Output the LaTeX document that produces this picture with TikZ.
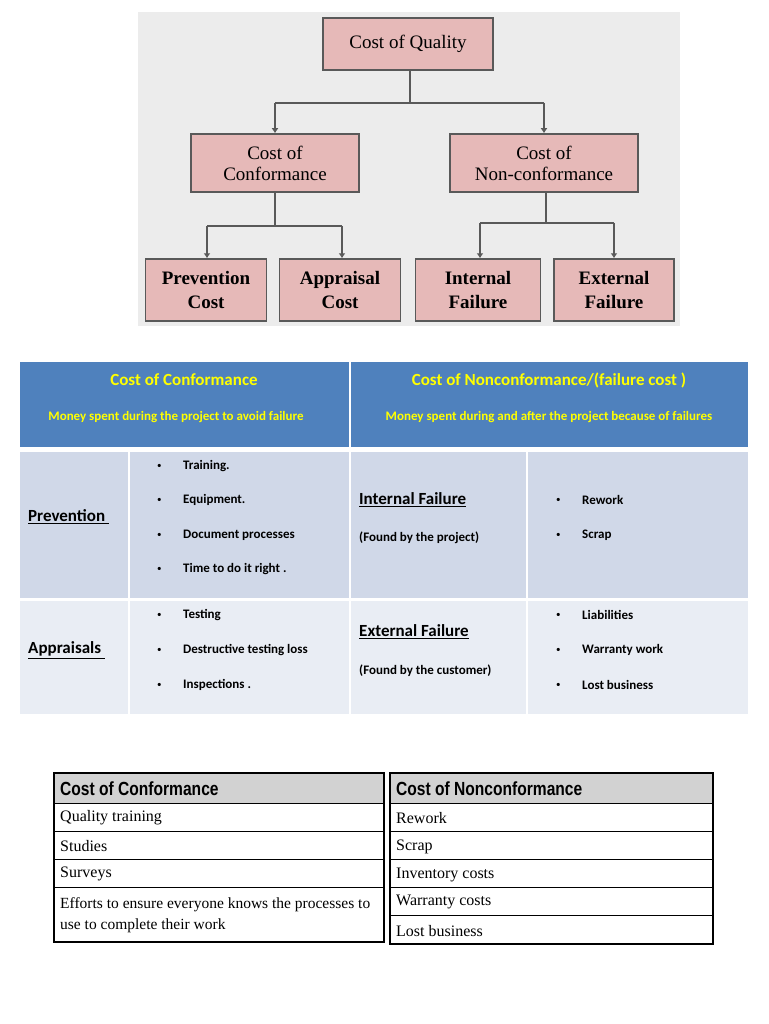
\documentclass[tikz,border=0pt]{standalone}
\usepackage{fontspec}
\setmainfont{Liberation Serif}
\newfontfamily\carl{Carlito}
\newfontfamily\narrow[FakeStretch=0.82]{Liberation Sans}
\usetikzlibrary{arrows.meta}
\definecolor{pinkb}{HTML}{E6B9B8}
\definecolor{hdr}{HTML}{4F81BD}
\definecolor{rowa}{HTML}{D0D8E8}
\definecolor{rowb}{HTML}{E9EDF4}
\definecolor{yel}{HTML}{FFFF00}
\tikzset{
 pbox/.style={draw=gray!70!black,line width=1.5pt,fill=pinkb,align=center,font=\fontsize{19}{21}\selectfont,inner sep=0pt},
 arr/.style={draw=gray!70!black,line width=1.5pt,-{Latex[length=5pt,width=7pt]}},
 ln/.style={draw=gray!70!black,line width=1.5pt},
 tx/.style={font=\carl\bfseries\fontsize{13}{15}\selectfont,anchor=west,inner sep=0pt},
 st/.style={font=\fontsize{16}{18}\selectfont,anchor=west,inner sep=0pt},
}
\begin{document}
\begin{tikzpicture}[x=1pt,y=-1pt]
\useasboundingbox (0,0) rectangle (768,1024);
\fill[white] (0,0) rectangle (768,1024);
% top diagram
\fill[gray!15] (138,12) rectangle (680,326);
\node[pbox,minimum width=170,minimum height=52] (q) at (408,44) {Cost of Quality};
\node[pbox,minimum width=168,minimum height=58] (c) at (275,163) {Cost of\\Conformance};
\node[pbox,minimum width=188,minimum height=58] (n) at (544,163) {Cost of\\Non-conformance};
\node[pbox,minimum width=121,minimum height=62,font=\bfseries\fontsize{19}{24}\selectfont] (p) at (206,290) {Prevention\\Cost};
\node[pbox,minimum width=121,minimum height=62,font=\bfseries\fontsize{19}{24}\selectfont] (a) at (340,290) {Appraisal\\Cost};
\node[pbox,minimum width=125,minimum height=62,font=\bfseries\fontsize{19}{24}\selectfont] (i) at (478,290) {Internal\\Failure};
\node[pbox,minimum width=120,minimum height=62,font=\bfseries\fontsize{19}{24}\selectfont] (e) at (614,290) {External\\Failure};
\coordinate (q1) at (410,103); \coordinate (qc) at (275,103); \coordinate (qn) at (544,103);
\draw[ln] (q.south -| q1) -- (q1);
\draw[ln] (qc) -- (qn);
\draw[arr] (qc) -- (c.north);
\draw[arr] (qn) -- (n.north);
\coordinate (c1) at (275,226); \coordinate (cp) at (207,226); \coordinate (ca) at (342,226);
\draw[ln] (c.south) -- (c1); \draw[ln] (cp) -- (ca);
\draw[arr] (cp) -- (p.north -| cp); \draw[arr] (ca) -- (a.north -| ca);
\coordinate (n1) at (546,223); \coordinate (ni) at (480,223); \coordinate (ne) at (614,223);
\draw[ln] (n.south -| n1) -- (n1); \draw[ln] (ni) -- (ne);
\draw[arr] (ni) -- (i.north -| ni); \draw[arr] (ne) -- (e.north -| ne);
% middle table
\fill[hdr] (20,362) rectangle (349,447);
\fill[hdr] (351,362) rectangle (748,447);
\fill[rowa] (20,452) rectangle (128,598); \fill[rowa] (130,452) rectangle (349,598);
\fill[rowa] (351,452) rectangle (526,598); \fill[rowa] (528,452) rectangle (748,598);
\fill[rowb] (20,601) rectangle (128,714); \fill[rowb] (130,601) rectangle (349,714);
\fill[rowb] (351,601) rectangle (526,714); \fill[rowb] (528,601) rectangle (748,714);
\node[font=\carl\bfseries\fontsize{17}{19}\selectfont,text=yel] (h1) at (184,380) {Cost of Conformance};
\node[font=\carl\bfseries\fontsize{13}{15}\selectfont,text=yel] (h1b) at (176,417) {Money spent during the project to avoid failure};
\node[font=\carl\bfseries\fontsize{17}{19}\selectfont,text=yel] (h2) at (549,380) {Cost of Nonconformance/(failure cost )};
\node[font=\carl\bfseries\fontsize{13}{15}\selectfont,text=yel] (h2b) at (549,417) {Money spent during and after the project because of failures};
\node[tx,font=\carl\bfseries\fontsize{17}{19}\selectfont] (pv) at (28,517) {\underline{Prevention\ }};
\node[tx,font=\carl\bfseries\fontsize{17}{19}\selectfont] (ap) at (28,650) {\underline{Appraisals\ }};
\node[tx,font=\carl\bfseries\fontsize{17}{19}\selectfont] (if) at (359,500) {\underline{Internal Failure}};
\node[tx] (if2) at (359,538) {(Found by the project)};
\node[tx,font=\carl\bfseries\fontsize{17}{19}\selectfont] (ef) at (359,632) {\underline{External Failure}};
\node[tx] (ef2) at (359,671) {(Found by the customer)};
\foreach \y/\t [count=\k] in {466/Training., 500/Equipment., 535/Document processes, 569/Time to do it right .,
  615/Testing, 650/Destructive testing loss, 685/Inspections .}{
  \node[tx,font=\carl\fontsize{9}{11}\selectfont] (lb\k) at (157,\y) {•}; \node[tx] (lt\k) at (183,\y) {\t};}
\foreach \y/\t [count=\k] in {500/Rework, 535/Scrap, 615/Liabilities, 650/Warranty work, 685/Lost business}{
  \node[tx,font=\carl\fontsize{9}{11}\selectfont] (rb\k) at (556,\y) {•}; \node[tx] (rt\k) at (582,\y) {\t};}
% bottom tables
\fill[gray!35] (54,773) rectangle (384,803);
\fill[gray!35] (390,773) rectangle (713,803);
\draw[line width=1.2pt] (54,773) rectangle (384,942);
\draw[line width=1.2pt] (390,773) rectangle (713,944);
\foreach \y in {803,831,859,887} \draw[line width=1pt] (54,\y) -- (384,\y);
\foreach \y in {803,831,859,887,915} \draw[line width=1pt] (390,\y) -- (713,\y);
\node[st,font=\narrow\bfseries\fontsize{19}{20}\selectfont] (b1) at (60,789) {Cost of Conformance};
\node[st,font=\narrow\bfseries\fontsize{19}{20}\selectfont] (b2) at (396,789) {Cost of Nonconformance};
\node[st] (l1) at (60,818) {Quality training};
\node[st] (l2) at (60,846) {Studies};
\node[st] (l3) at (60,874) {Surveys};
\node[st,align=left,font=\fontsize{15.5}{21}\selectfont] (l4) at (60,915) {Efforts to ensure everyone knows the processes to\\use to complete their work};
\node[st] (r1) at (396,818) {Rework};
\node[st] (r2) at (396,847) {Scrap};
\node[st] (r3) at (396,875) {Inventory costs};
\node[st] (r4) at (396,902) {Warranty costs};
\node[st] (r5) at (396,931) {Lost business};
\end{tikzpicture}
\end{document}
